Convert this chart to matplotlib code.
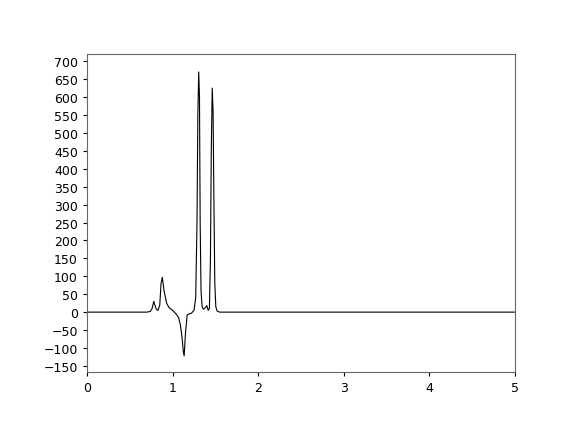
import matplotlib
matplotlib.use("Agg")
import matplotlib.pyplot as plt

time = [0.0, 0.70, 0.74, 0.76, 0.78, 0.79, 0.81, 0.83, 0.85, 0.865, 0.88, 0.90, 0.93, 0.96, 1.00,
        1.04, 1.07, 1.09, 1.11, 1.125, 1.135, 1.15, 1.17, 1.19, 1.22, 1.25, 1.27, 1.285, 1.295, 1.305,
        1.314, 1.322, 1.332, 1.345, 1.36, 1.38, 1.40, 1.415, 1.43, 1.442, 1.452, 1.463, 1.473, 1.483,
        1.493, 1.505, 1.52, 1.55, 5.0]
signal = [0, 0, 2, 10, 30, 22, 8, 5, 20, 80, 97, 60, 25, 12, 5,
          -5, -15, -35, -70, -110, -122, -60, -8, -5, -3, 5, 40, 250, 550, 670,
          600, 250, 60, 15, 8, 12, 18, 5, 10, 150, 450, 625, 560, 300,
          80, 15, 3, 0, 0]

fig = plt.figure(figsize=(5.75, 4.31), dpi=100)
ax = fig.add_axes([87/575, 1 - 373/431, (515-87)/575, (373-55)/431])
ax.plot(time, signal, color="black", lw=0.8)
ax.set_xlim(0, 5)
ax.set_ylim(-167, 720)
ax.set_xticks([0, 1, 2, 3, 4, 5])
ax.set_yticks(range(-150, 701, 50))
ax.tick_params(labelsize=9, direction="out", length=3)
for s in ax.spines.values():
    s.set_color("#666666")
fig.savefig("out.png", dpi=100)
